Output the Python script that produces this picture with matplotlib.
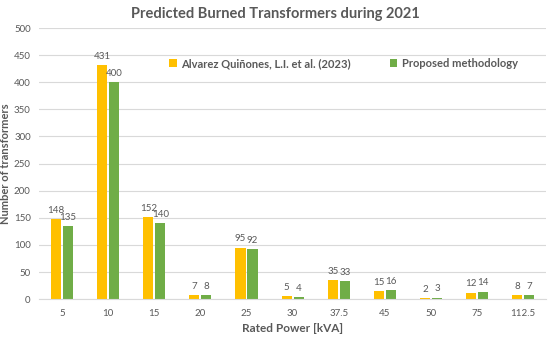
import numpy as np
import matplotlib.pyplot as plt

# categorias del eje x (potencia nominal)
potencias = ['5', '10', '15', '20', '25', '30', '37.5', '45', '50', '75', '112.5']

# valores de cada serie
alvarez = [148, 431, 152, 7, 95, 5, 35, 15, 2, 12, 8]
propuesta = [135, 400, 140, 8, 92, 4, 33, 16, 3, 14, 7]

plt.rcParams['font.family'] = ['Lato', 'DejaVu Sans']
gris = '#595959'
fig = plt.figure(figsize=(5.5, 3.38), dpi=100)
ax = fig.add_axes([0.071, 0.115, 0.922, 0.802])

x = np.arange(len(potencias))
w = 0.22
b1 = ax.bar(x - w/2 - 0.02, alvarez, w, color='#FFC000', label=u'Alvarez Quiñones, L.I. et al. (2023)')
b2 = ax.bar(x + w/2 + 0.02, propuesta, w, color='#70AD47', label='Proposed methodology')
ax.bar_label(b1, padding=3, fontsize=7, color=gris)
ax.bar_label(b2, padding=3, fontsize=7, color=gris)

ax.set_ylim(0, 500)
ax.set_yticks(range(0, 501, 50))
ax.set_xlim(-0.5, len(potencias) - 0.5)
ax.set_xticks(x)
ax.set_xticklabels(potencias)
ax.tick_params(axis='x', length=0, labelsize=7, labelcolor=gris, pad=7)
ax.tick_params(axis='y', length=0, labelsize=7, labelcolor=gris, pad=6)
ax.grid(axis='y', color='#d9d9d9', linewidth=0.8)
ax.set_axisbelow(True)
for s in ['top', 'right', 'left']:
    ax.spines[s].set_visible(False)
ax.spines['bottom'].set_color('#d9d9d9')

ax.set_xlabel('Rated Power [kVA]', fontsize=8.5, fontweight='bold', color=gris, labelpad=4)
ax.set_ylabel('Number of transformers', fontsize=8, fontweight='bold', color=gris, labelpad=2)
fig.suptitle('Predicted Burned Transformers during 2021', fontsize=10.5, fontweight='bold', color=gris, y=0.98)

leg = ax.legend(loc='center', bbox_to_anchor=(0.6, 0.87), ncol=2, frameon=False,
                fontsize=8, handlelength=0.7, handleheight=0.7, columnspacing=3.5, handletextpad=0.4)
for t in leg.get_texts():
    t.set_fontweight('bold')
    t.set_color(gris)

plt.savefig('out.png', dpi=100)
